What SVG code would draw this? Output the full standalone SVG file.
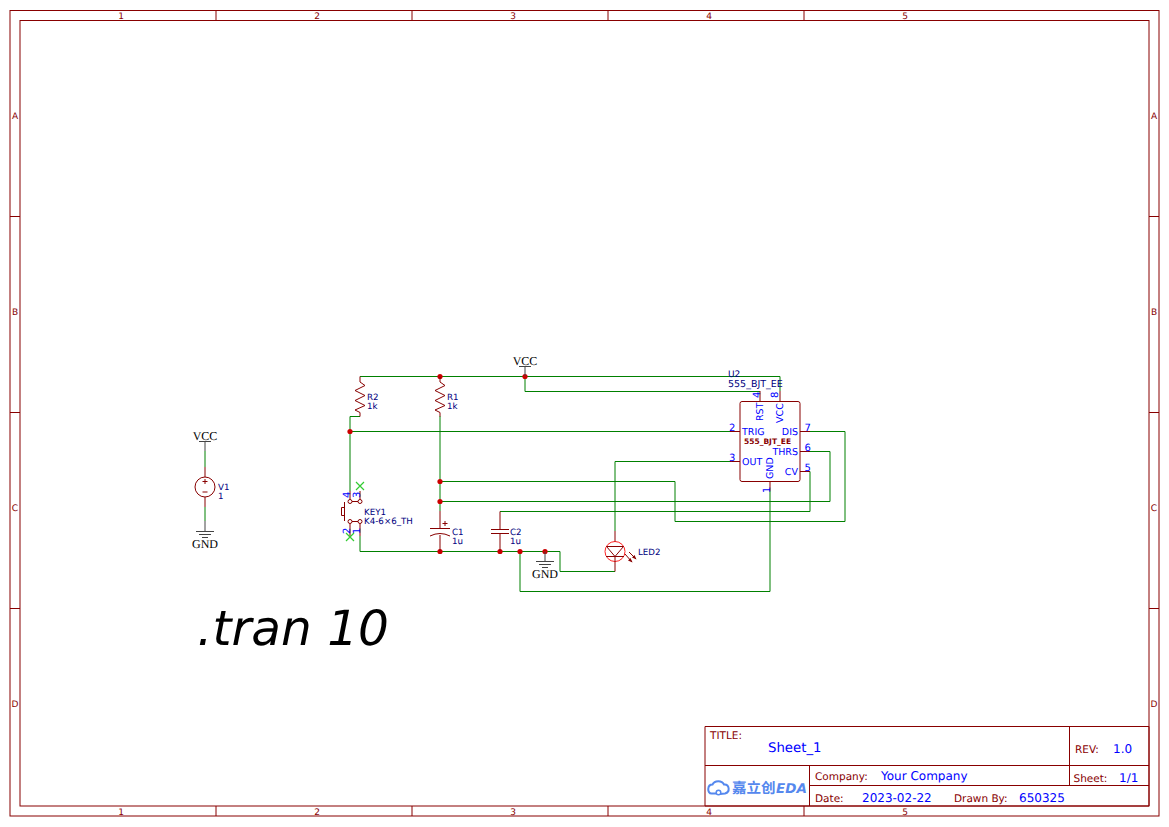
<svg xmlns="http://www.w3.org/2000/svg" width="1169" height="827" viewBox="0 0 1169 827">
<style>
text{font-family:"DejaVu Sans",sans-serif;text-rendering:geometricPrecision}
.f{fill:none;stroke:#880000;stroke-width:1}
.w{fill:none;stroke:#008000;stroke-width:1}
.p{fill:none;stroke:#880000;stroke-width:1}
.s{fill:none;stroke:#880000;stroke-width:1}
.k{fill:none;stroke:#444;stroke-width:1}
.j{fill:#cc0000}
.x{fill:none;stroke:#33cc33;stroke-width:1.2}
.fl{fill:#880000;font-size:9px;text-anchor:middle}
.tl{fill:#880000;font-size:10.5px}
.tv{fill:#0000ff;font-size:12px}
.n{fill:#000080;font-size:8.7px}
.pn{fill:#0000ff;font-size:10px}
.pl{fill:#0000ff;font-size:9.5px}
.net{font-family:"Liberation Serif",serif;font-size:12px;fill:#000;text-anchor:middle}
</style>
<rect width="1169" height="827" fill="#fff"/>
<g id="frame">
<rect class="f" x="10" y="10.5" width="1149" height="805.5"/>
<rect class="f" x="20" y="20.5" width="1129" height="785.5"/>
<path class="f" d="M216 10V20M412 10V20M608 10V20M804 10V20M216 806V816M412 806V816M608 806V816M804 806V816M10 216.5H20M10 412.5H20M10 608.5H20M1149 216.5H1159M1149 412.5H1159M1149 608.5H1159"/>
<text class="fl" x="121" y="19">1</text><text class="fl" x="317" y="19">2</text><text class="fl" x="513" y="19">3</text><text class="fl" x="709" y="19">4</text><text class="fl" x="905" y="19">5</text>
<text class="fl" x="121" y="815">1</text><text class="fl" x="317" y="815">2</text><text class="fl" x="513" y="815">3</text><text class="fl" x="709" y="815">4</text><text class="fl" x="905" y="815">5</text>
<text class="fl" x="15" y="119">A</text><text class="fl" x="15" y="315">B</text><text class="fl" x="15" y="511">C</text><text class="fl" x="15" y="707">D</text>
<text class="fl" x="1154" y="119">A</text><text class="fl" x="1154" y="315">B</text><text class="fl" x="1154" y="511">C</text><text class="fl" x="1154" y="707">D</text>
</g>
<g id="title-block">
<path class="f" d="M705 726.5H1149V806H705ZM705 765.5H1149M810 785.5H1149M1069.5 726.5V785.5M809.5 765.5V806"/>
<text class="tl" x="710" y="738.5">TITLE:</text>
<text x="768" y="752" fill="#0000ff" font-size="13.3">Sheet_1</text>
<text class="tl" x="1075" y="752.5">REV:</text>
<text class="tv" x="1113" y="753">1.0</text>
<text class="tl" x="815" y="779.5">Company:</text>
<text class="tv" x="881" y="779.5">Your Company</text>
<text class="tl" x="1073.5" y="781.5">Sheet:</text>
<text class="tv" x="1119" y="781.5">1/1</text>
<text class="tl" x="815" y="801.5">Date:</text>
<text class="tv" x="862" y="801.5">2023-02-22</text>
<text class="tl" x="954" y="801.5">Drawn By:</text>
<text class="tv" x="1019" y="801.5">650325</text>
<path d="M716 793.5H711.5C707 793.5 707 784.5 712.5 784.5C714.5 780 722 780 724 784.5C729.5 784 730.5 792 725 793.5L720 794" fill="none" stroke="#5588ee" stroke-width="2"/>
<circle cx="718.5" cy="792.5" r="2.3" fill="none" stroke="#5588ee" stroke-width="1.5"/>
<text x="732" y="793" fill="#5588ee" font-size="14.5" font-weight="700" style="font-family:'Noto Sans CJK SC',sans-serif">嘉立创</text>
<text x="776" y="793" fill="#5588ee" font-size="13.5" font-weight="700" font-style="italic">EDA</text>
</g>
<g id="connectors">
<path class="w" d="M360 376.5H780V391M525 376.5V391.5H760"/>
<path class="w" d="M360 416.5H350V491M350 431.5H730"/>
<path class="w" d="M440 416V511M440 481.5H675V521.5H845V431.5H810"/>
<path class="w" d="M440 501.5H830V451.5H810M500 511.5H810V471.5"/>
<path class="w" d="M360 536V551.5H560V571.5H615"/>
<path class="w" d="M520 551.5V591.5H770V491"/>
<path class="w" d="M730 461.5H615V531"/>
<path class="w" d="M205 451V467M205 507V521"/>
<g class="j">
<circle cx="440" cy="376.5" r="2.6"/><circle cx="525" cy="376.5" r="2.6"/><circle cx="350" cy="431.5" r="2.6"/>
<circle cx="440" cy="481.5" r="2.6"/><circle cx="440" cy="501.5" r="2.6"/><circle cx="440" cy="551.5" r="2.6"/>
<circle cx="500" cy="551.5" r="2.6"/><circle cx="520" cy="551.5" r="2.6"/><circle cx="545" cy="551.5" r="2.6"/>
</g>
</g>
<g id="VCC-top">
<path class="k" d="M525 376V366.5M519 366.5H531"/>
<text class="net" x="525" y="365">VCC</text>
</g>
<g id="VCC-left">
<path class="k" d="M205 451V441.5M199 441.5H211"/>
<text class="net" x="205" y="440">VCC</text>
</g>
<g id="GND-left">
<path class="k" d="M205 521V531.5M196 531.5H214M199 534.5H211M202 537.5H208"/>
<text class="net" x="205" y="548">GND</text>
</g>
<g id="GND-main">
<path class="k" d="M545 551.5V561.5M536 561.5H554M539 564.5H551M542 567.5H548"/>
<text class="net" x="545" y="578">GND</text>
</g>
<g id="V1">
<circle class="s" cx="205" cy="487" r="10"/>
<path class="p" d="M205 467V477M205 497V507M202.5 481.5H207.5M205 479V484M202.5 492H207.5"/>
<text class="n" x="218" y="489.5">V1</text><text class="n" x="218" y="498.5">1</text>
</g>
<g id="R2">
<path class="s" d="M360 376.5V382L365 385.5L355 390.5L365 395.5L355 400.5L365 405.5L355 410L360 412.5V416.5"/>
<text class="n" x="367" y="399.5">R2</text><text class="n" x="367" y="408.5">1k</text>
</g>
<g id="R1">
<path class="s" d="M440 376.5V382L445 385.5L435 390.5L445 395.5L435 400.5L445 405.5L435 410L440 412.5V416.5"/>
<text class="n" x="447" y="399.5">R1</text><text class="n" x="447" y="408.5">1k</text>
</g>
<g id="KEY1">
<path class="p" d="M350 491V499.5M360 491V499.5M350 523.5V536M360 523.5V536M352 501.5H358M352 521.5H358"/>
<circle class="p" cx="350" cy="501.5" r="2"/><circle class="p" cx="360" cy="501.5" r="2"/><circle class="p" cx="350" cy="521.5" r="2"/><circle class="p" cx="360" cy="521.5" r="2"/>
<path class="s" d="M344.5 502V521M344.5 507.5H341.5V515.5H344.5"/>
<path class="x" d="M356 482L364 490M364 482L356 490M346 533L354 541M354 533L346 541"/>
<text class="pn" transform="translate(349.5 498) rotate(-90)">4</text>
<text class="pn" transform="translate(359.5 498) rotate(-90)">3</text>
<text class="pn" transform="translate(349.5 534) rotate(-90)">2</text>
<text class="pn" transform="translate(359.5 534) rotate(-90)">1</text>
<text class="n" x="364" y="515">KEY1</text><text class="n" x="364" y="524">K4-6×6_TH</text>
</g>
<g id="C1">
<path class="p" d="M440 511V528.5M440 535V551.5"/>
<path class="s" d="M430 528.5H450M430 536Q440 531 450 536M442.5 523.5H447.5M445 521V526"/>
<text class="n" x="452" y="534.5">C1</text><text class="n" x="452" y="544">1u</text>
</g>
<g id="C2">
<path class="p" d="M500 511.5V529.5M500 533.5V551.5"/>
<path class="s" d="M491 529.5H509M491 533.5H509"/>
<text class="n" x="510" y="534.5">C2</text><text class="n" x="510" y="544">1u</text>
</g>
<g id="LED2">
<circle cx="615" cy="551.5" r="10" fill="none" stroke="#ff2222"/>
<path class="p" d="M615 531V541.5M615 556V571.5M606 556.5H624M606.5 546.5H623.5L615 556.5Z"/>
<path class="s" d="M625 554L632 562M629 552L636 559" stroke-width="1.3"/>
<path d="M632.5 562.5L628 560.5L630.5 558ZM636.5 559.5L632 557.5L634.5 555Z" fill="#880000"/>
<text class="n" x="638" y="555">LED2</text>
</g>
<g id="U2">
<rect class="s" x="740" y="401.5" width="60" height="80" rx="2"/>
<path class="p" d="M760 391V401M780 391V401M730 431.5H740M730 461.5H740M800 431.5H810M800 451.5H810M800 471.5H810M770 481.5V491"/>
<text fill="#000080" font-size="9" x="728" y="377">U2</text>
<text x="728" y="386.5" fill="#000080" font-size="9.5">555_BJT_EE</text>
<text fill="#880000" font-size="7.5" font-weight="700" x="744" y="444">555_BJT_EE</text>
<text class="pl" x="742" y="435">TRIG</text><text class="pl" x="742" y="465">OUT</text>
<text class="pl" x="798" y="435" text-anchor="end">DIS</text><text class="pl" x="798" y="455" text-anchor="end">THRS</text><text class="pl" x="798" y="475" text-anchor="end">CV</text>
<text class="pl" transform="translate(763 421) rotate(-90)">RST</text>
<text class="pl" transform="translate(783 423) rotate(-90)">VCC</text>
<text class="pl" transform="translate(773 479) rotate(-90)">GND</text>
<text class="pn" x="729" y="431">2</text><text class="pn" x="729" y="461">3</text>
<text class="pn" x="804.5" y="431">7</text><text class="pn" x="804.5" y="451">6</text><text class="pn" x="804.5" y="471">5</text>
<text class="pn" transform="translate(760 398) rotate(-90)">4</text>
<text class="pn" transform="translate(778 398) rotate(-90)">8</text>
<text class="pn" transform="translate(770 493) rotate(-90)">1</text>
</g>
<text x="197" y="645" font-size="48.5" font-style="italic" fill="#000">.tran 10</text>
</svg>
